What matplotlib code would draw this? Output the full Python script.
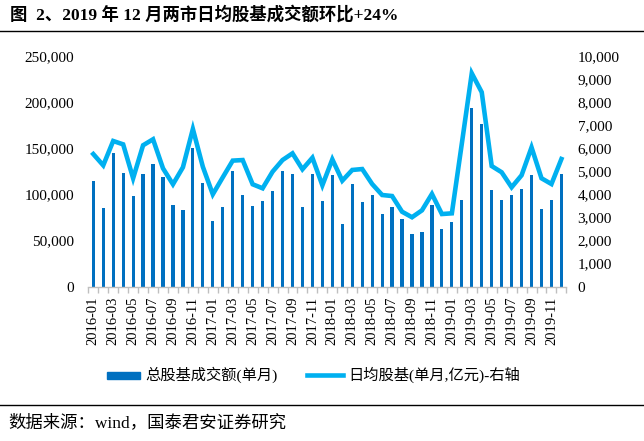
import matplotlib
matplotlib.use("Agg")
import matplotlib.pyplot as plt
from matplotlib.lines import Line2D
from matplotlib.patches import Rectangle
from matplotlib.ticker import FuncFormatter
import numpy as np

months = [f"{y}-{m:02d}" for y in range(2016, 2020) for m in range(1, 13)]

turnover_total = [
    114900, 85300, 144600, 123200, 98300, 121800, 133300, 118900, 88900, 83100, 150300, 112400,
    70900, 86000, 125400, 99000, 87800, 92500, 103700, 125400, 121800, 86000, 122500, 92500,
    120700, 68300, 111300, 91400, 99000, 78400, 86000, 73700, 57100, 58900, 88500, 62500,
    70100, 93600, 194000, 176300, 104800, 93600, 99000, 105900, 120700, 84200, 93600, 121800,
]

daily_avg = [
    5750, 5260, 6316, 6170, 4700, 6130, 6390, 5130, 4440, 5175, 6836, 5200,
    4005, 4740, 5465, 5490, 4440, 4265, 4985, 5490, 5780, 5090, 5590, 4395,
    5520, 4595, 5060, 5100, 4450, 3975, 3930, 3250, 3010, 3310, 4020, 3150,
    3180, 6200, 9250, 8430, 5230, 4960, 4310, 4830, 6040, 4700, 4450, 5535,
]

title = "图  2、2019 年 12 月两市日均股基成交额环比+24%"
bar_label = "总股基成交额(单月)"
line_label = "日均股基(单月,亿元)-右轴"
source = "数据来源：wind，国泰君安证券研究"

FAM = ["Liberation Serif", "Noto Sans CJK SC", "DejaVu Sans"]
plt.rcParams["font.family"] = FAM

BAR_C = "#0070C0"
LINE_C = "#00B0F0"

fig = plt.figure(figsize=(6.44, 4.41), dpi=100)
ax = fig.add_axes([0.1371, 0.3499, 0.7424, 0.5231])
ax2 = ax.twinx()

x = np.arange(len(months))
ax.bar(x, turnover_total, width=0.32, color=BAR_C, zorder=2)
ax2.plot(x, daily_avg, color=LINE_C, lw=3.3, solid_joinstyle="miter", zorder=3)

ax.set_xlim(-0.5, len(months) - 0.5)
ax.set_ylim(0, 250000)
ax2.set_ylim(0, 10000)
ax.set_yticks(np.arange(0, 250001, 50000))
ax2.set_yticks(np.arange(0, 10001, 1000))
fmt = FuncFormatter(lambda v, p: f"{int(v):,}")
ax.yaxis.set_major_formatter(fmt)
ax2.yaxis.set_major_formatter(fmt)

for a in (ax, ax2):
    for s in a.spines.values():
        s.set_visible(False)
ax.spines["bottom"].set_visible(True)
ax.spines["bottom"].set_color("#BFBFBF")
ax.spines["bottom"].set_linewidth(1.0)

ax.tick_params(axis="y", length=0, labelsize=11, pad=10)
ax2.tick_params(axis="y", length=0, labelsize=11, pad=8)

ax.set_xticks(x[::2])
ax.set_xticklabels(months[::2], rotation=90, fontsize=10.5)
ax.tick_params(axis="x", which="major", length=0, pad=7)
ax.set_xticks(np.arange(-0.5, len(months)), minor=True)
ax.tick_params(axis="x", which="minor", length=4, color="#BFBFBF", width=1.0)

# title and rules
fig.text(0.016, 0.966, title, fontsize=12.5, fontweight="bold", va="center", ha="left",
         family=FAM)
fig.add_artist(Line2D([0, 1], [0.930, 0.930], color="black", lw=1.0))
fig.add_artist(Line2D([0, 1], [0.082, 0.082], color="black", lw=1.0))
fig.text(0.013, 0.041, source, fontsize=12.5, va="center", ha="left", family=FAM)

# legend
ly = 1 - 375 / 441
fig.add_artist(Rectangle((106.7 / 644, ly - 3.5 / 441), 33.5 / 644, 7 / 441,
                         color=BAR_C, transform=fig.transFigure))
fig.text(145 / 644, ly, bar_label, fontsize=11, va="center", ha="left", family=FAM)
fig.add_artist(Line2D([306.7 / 644, 343.3 / 644], [ly, ly], color=LINE_C, lw=3.3))
fig.text(348 / 644, ly, line_label, fontsize=11, va="center", ha="left", family=FAM)

fig.savefig("out.png", dpi=100)
